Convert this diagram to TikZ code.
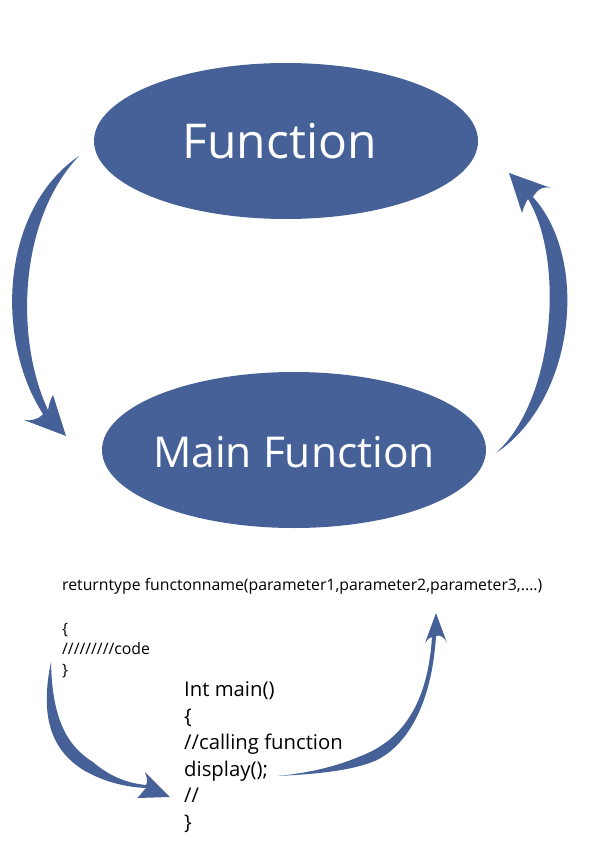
\documentclass[tikz,border=0pt]{standalone}
\usepackage{fontspec}
\setmainfont{Open Sans}
\usetikzlibrary{shapes.geometric}
\definecolor{fblue}{RGB}{69,97,152}
\tikzset{
  blob/.style={ellipse, fill=fblue, draw=none, inner sep=0pt},
  bigtxt/.style={anchor=base, text=white, inner sep=0pt},
  codeline/.style={anchor=base west, inner sep=0pt, font=\fontsize{20.3}{25}\selectfont},
  smallline/.style={anchor=base west, inner sep=0pt, font=\fontsize{15.8}{19}\selectfont},
  arrowfill/.style={fill=fblue, draw=none}
}
\begin{document}
\begin{tikzpicture}[x=1pt,y=-1pt]
\path[use as bounding box] (0,0) rectangle (595,842);
% ellipses
\node[blob, minimum width=384pt, minimum height=156pt] (fn) at (286,141) {};
\node[blob, minimum width=384pt, minimum height=156pt] (mainfn) at (294,450) {};
\node[bigtxt, font=\fontsize{48}{55}\selectfont] (fntxt) at (279.7,158.3) {Function};
\node[bigtxt, font=\fontsize{42.5}{50}\selectfont] (mainfntxt) at (294,467.3) {Main Function};
% left arrow (Function -> Main Function)
\fill[arrowfill] (79,156) .. controls (0,210) and (-5,340) .. (43,414)
  .. controls (38,420) and (30,421) .. (24,420) -- (66,436) -- (53,395)
  .. controls (50,400) and (49,405) .. (48,410)
  .. controls (15,340) and (18,220) .. (79,156) -- cycle;
% right arrow (Main Function -> Function)
\fill[arrowfill] (496,453) .. controls (575,400) and (590,260) .. (533,197)
  .. controls (538,188) and (545,186) .. (551,188) -- (509,173) -- (522,213)
  .. controls (524,206) and (526,202) .. (528,199)
  .. controls (565,260) and (555,400) .. (496,453) -- cycle;
% code texts
\node[smallline] (sig) at (62,590.7) {returntype functonname(parameter1,parameter2,parameter3,....)};
\node[smallline] (ob1) at (62,634) {\{};
\node[smallline] (code) at (62,654) {/////////code};
\node[smallline] (cb1) at (62,675) {\}};
\node[codeline] (l1) at (184,696.7) {Int main()};
\node[codeline] (l2) at (184,723.2) {\{};
\node[codeline] (l3) at (184,749.7) {//calling function};
\node[codeline] (l4) at (184,776.2) {display();};
\node[codeline] (l5) at (184,802.7) {//};
\node[codeline] (l6) at (184,829.2) {\}};
% bottom-left arrow
\fill[arrowfill] (51,662) .. controls (40,715) and (50,750) .. (85,771)
  .. controls (105,782) and (125,787) .. (146,788)
  .. controls (142,792) and (140,796) .. (137,798) -- (170,797) -- (145,772)
  .. controls (147,778) and (148,782) .. (146,785)
  .. controls (125,783) and (108,775) .. (93,762)
  .. controls (65,745) and (52,715) .. (51,662) -- cycle;
% bottom-right arrow
\fill[arrowfill] (277,776) .. controls (320,774) and (355,770) .. (377,760)
  .. controls (410,743) and (432,700) .. (436,636)
  .. controls (440,634) and (445,638) .. (447,643) -- (436,613) -- (425,643)
  .. controls (428,639) and (430,637) .. (432,637)
  .. controls (428,700) and (405,735) .. (370,752)
  .. controls (340,766) and (310,773) .. (277,776) -- cycle;
\end{tikzpicture}
\end{document}
